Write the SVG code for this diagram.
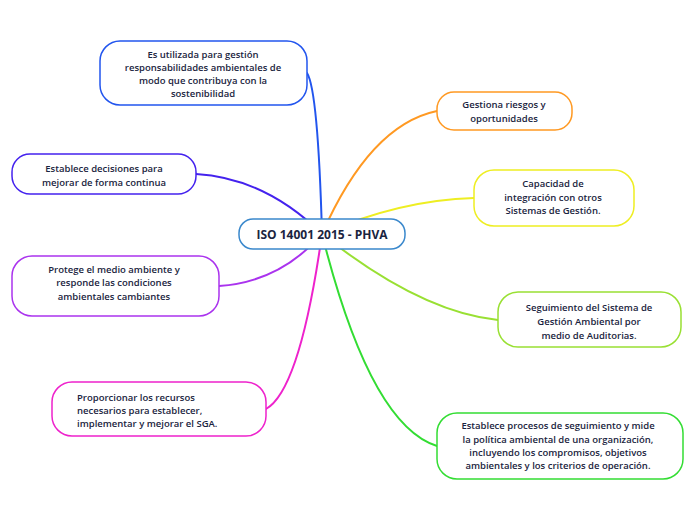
<svg xmlns="http://www.w3.org/2000/svg" width="696" height="520" viewBox="0 0 696 520">
<style>
.n{fill:#fff;stroke-width:1.5}
.t{font-family:"Open Sans","Noto Sans",sans-serif;font-size:9.5px;font-weight:600;fill:#1a2440;text-anchor:middle}
.c{fill:none;stroke-width:2;stroke-linecap:round}
</style>
<rect width="696" height="520" fill="#fff"/>
<g id="connectors">
<path class="c" stroke="#2255ee" d="M322,234 Q318,90 307,73"/>
<path class="c" stroke="#4422ee" d="M322,234 Q265,178 196,174"/>
<path class="c" stroke="#aa33ee" d="M322,234 Q280,282 219,286"/>
<path class="c" stroke="#ee22cc" d="M322,234 Q300,390 266,409"/>
<path class="c" stroke="#ff9922" d="M322,234 Q370,125 437,111"/>
<path class="c" stroke="#eeee22" d="M322,234 Q400,200 474,198"/>
<path class="c" stroke="#99e033" d="M322,234 Q420,312 498,320"/>
<path class="c" stroke="#33dd33" d="M322,234 Q370,425 437,446"/>
</g>
<g id="n1"><rect class="n" stroke="#2255ee" x="100" y="41" width="207" height="64" rx="20"/>
<text class="t" x="203" y="58">Es utilizada para gestión</text><text class="t" x="203" y="71">responsabilidades ambientales de</text><text class="t" x="203" y="84">modo que contribuya con la</text><text class="t" x="203" y="97">sostenibilidad</text></g>
<g id="n2"><rect class="n" stroke="#4422ee" x="12" y="154" width="184" height="40" rx="18"/>
<text class="t" x="104" y="172">Establece decisiones para</text><text class="t" x="104" y="186">mejorar de forma continua</text></g>
<g id="n3"><rect class="n" stroke="#aa33ee" x="12" y="256" width="207" height="60" rx="20"/>
<text class="t" x="114" y="273">Protege el medio ambiente y</text><text class="t" x="114" y="286">responde las condiciones</text><text class="t" x="114" y="300">ambientales cambiantes</text></g>
<g id="n4"><rect class="n" stroke="#ee22cc" x="52" y="382" width="214" height="54" rx="20"/>
<text class="t" x="77" y="401" style="text-anchor:start">Proporcionar los recursos</text><text class="t" x="77" y="414" style="text-anchor:start">necesarios para establecer,</text><text class="t" x="77" y="427" style="text-anchor:start">implementar y mejorar el SGA.</text></g>
<g id="n5"><rect class="n" stroke="#ff9922" x="437" y="92" width="135" height="38" rx="17"/>
<text class="t" x="504" y="108">Gestiona riesgos y</text><text class="t" x="504" y="122">oportunidades</text></g>
<g id="n6"><rect class="n" stroke="#eeee22" x="474" y="170" width="160" height="56" rx="20"/>
<text class="t" x="553" y="187">Capacidad de</text><text class="t" x="553" y="201">integración con otros</text><text class="t" x="553" y="214">Sistemas de Gestión.</text></g>
<g id="n7"><rect class="n" stroke="#99e033" x="498" y="292" width="183" height="55" rx="20"/>
<text class="t" x="589" y="311">Seguimiento del Sistema de</text><text class="t" x="589" y="325">Gestión Ambiental por</text><text class="t" x="589" y="339">medio de Auditorias.</text></g>
<g id="n8"><rect class="n" stroke="#33dd33" x="437" y="413" width="246" height="66" rx="20"/>
<text class="t" x="558" y="429">Establece procesos de seguimiento y mide</text><text class="t" x="558" y="443">la política ambiental de una organización,</text><text class="t" x="558" y="456">incluyendo los compromisos, objetivos</text><text class="t" x="558" y="469">ambientales y los criterios de operación.</text></g>
<g id="center"><rect fill="#fff" stroke="#3a88cc" stroke-width="1.5" x="239" y="219" width="166" height="30" rx="14"/>
<text class="t" x="322" y="239" style="font-size:12px;font-weight:700">ISO 14001 2015 - PHVA</text></g>
</svg>
